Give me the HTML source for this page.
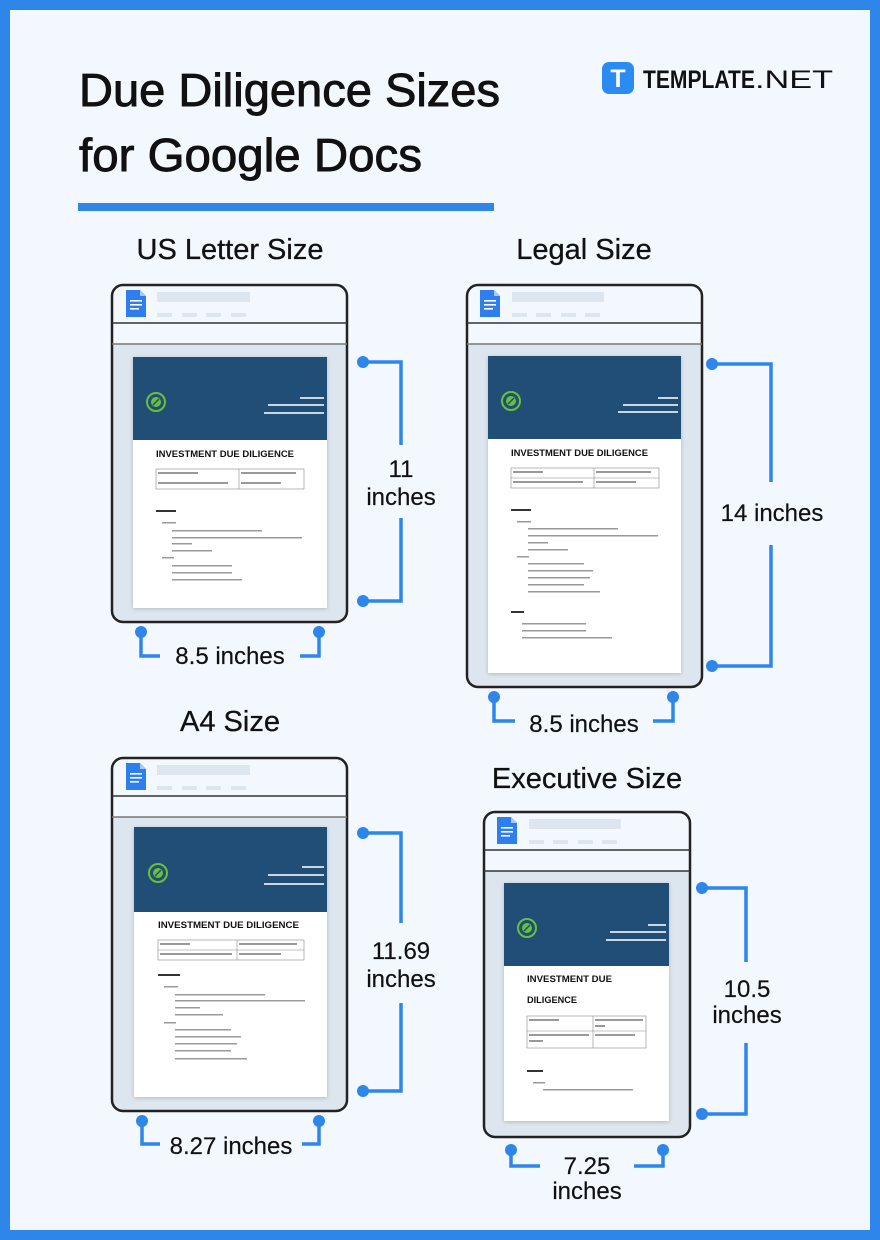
<!DOCTYPE html>
<html><head><meta charset="utf-8"><style>
html,body{margin:0;padding:0;background:#2e86ea}
svg{display:block}
text{font-family:"Liberation Sans",sans-serif}
</style></head><body>
<svg width="880" height="1240" viewBox="0 0 880 1240" xmlns="http://www.w3.org/2000/svg">
<defs>
<filter id="sh" x="-10%" y="-10%" width="120%" height="120%"><feDropShadow dx="0" dy="1" stdDeviation="2" flood-color="#000" flood-opacity="0.2"/></filter>
<g id="gicon"><path d="M0 0h14l6 6v21h-20z" fill="#2f7ef0"/><path d="M14 0v6h6z" fill="#a8c7fa"/><rect x="4" y="10" width="12" height="1.6" fill="#fff"/><rect x="4" y="14" width="12" height="1.6" fill="#fff"/><rect x="4" y="18" width="9" height="1.6" fill="#fff"/></g>
<g id="logo"><circle cx="0" cy="0" r="9" fill="none" stroke="#6cbf3a" stroke-width="2"/><circle cx="0" cy="0" r="5" fill="#6cbf3a"/><path d="M-3 3l6-6" stroke="#214e77" stroke-width="1.5"/></g>
</defs>
<rect x="10" y="10" width="860" height="1220" fill="#f3f8fe"/>

<g stroke="#111" stroke-width="0.9">
<text x="79" y="106" font-size="46" fill="#111" textLength="421" lengthAdjust="spacingAndGlyphs">Due Diligence Sizes</text>
<text x="79" y="171" font-size="46" fill="#111" textLength="343" lengthAdjust="spacingAndGlyphs">for Google Docs</text>
</g>
<rect x="78" y="203" width="416" height="8" fill="#2e86ea"/>

<rect x="602" y="62" width="32" height="32" rx="7" fill="#2a8cf2"/>
<text x="618" y="87" font-size="25" font-weight="bold" fill="#fff" text-anchor="middle">T</text>
<text x="643" y="88" font-size="25" font-weight="bold" fill="#111" textLength="112" lengthAdjust="spacingAndGlyphs">TEMPLATE</text>
<text x="755" y="88" font-size="25" fill="#111" textLength="78" lengthAdjust="spacingAndGlyphs">.NET</text>

<g font-size="29" fill="#111" text-anchor="middle" stroke="#111" stroke-width="0.3">
<text x="230" y="259">US Letter Size</text>
<text x="584" y="259">Legal Size</text>
<text x="230" y="731">A4 Size</text>
<text x="587" y="788">Executive Size</text>
</g>

<!-- Frame 1 US Letter -->
<g>
<rect x="112" y="285" width="235" height="337" rx="11" fill="#dde6ef"/>
<path d="M112 344V296a11 11 0 0 1 11-11h213a11 11 0 0 1 11 11v48z" fill="#f3f8fe"/>
<rect x="112" y="285" width="235" height="337" rx="11" fill="none" stroke="#222" stroke-width="2.5"/>
<line x1="112" y1="323" x2="347" y2="323" stroke="#333" stroke-width="1.5"/>
<line x1="112" y1="344" x2="347" y2="344" stroke="#777" stroke-width="1.5"/>
<use href="#gicon" x="126" y="290"/>
<rect x="157" y="292" width="93" height="10" fill="#dde6ef"/>
<g fill="#dde6ef"><rect x="157" y="313" width="15" height="4"/><rect x="182" y="313" width="15" height="4"/><rect x="206" y="313" width="15" height="4"/><rect x="231" y="313" width="15" height="4"/></g>
<rect x="133" y="357" width="194" height="251" fill="#fff" filter="url(#sh)"/>
<rect x="133" y="357" width="194" height="83" fill="#214e77"/>
<use href="#logo" x="156" y="402"/>
<g fill="#c9d6e3"><rect x="300" y="397" width="24" height="2"/><rect x="268" y="404" width="56" height="2"/><rect x="264" y="412" width="60" height="2"/></g>
<text x="156" y="457" font-size="9.5" font-weight="bold" fill="#111" textLength="138" lengthAdjust="spacingAndGlyphs">INVESTMENT DUE DILIGENCE</text>
<rect x="156" y="469" width="148" height="20" fill="none" stroke="#888" stroke-width="0.6"/>
<line x1="239" y1="469" x2="239" y2="489" stroke="#888" stroke-width="0.6"/>
<g fill="#999"><rect x="158" y="472" width="40" height="2"/><rect x="241" y="472" width="55" height="2"/><rect x="158" y="482" width="70" height="2"/><rect x="241" y="482" width="40" height="2"/><rect x="156" y="510" width="20" height="2" fill="#333"/><rect x="162" y="522" width="14" height="1.5"/><rect x="172" y="530" width="90" height="1.5"/><rect x="172" y="537" width="130" height="1.5"/><rect x="172" y="543" width="20" height="1.5"/><rect x="172" y="550" width="40" height="1.5"/><rect x="162" y="557" width="12" height="1.5"/><rect x="172" y="565" width="60" height="1.5"/><rect x="172" y="572" width="60" height="1.5"/><rect x="172" y="579" width="70" height="1.5"/></g>
</g>
<g stroke="#2e86ea" stroke-width="3.5" fill="none"><path d="M363 362H401V445"/><path d="M401 518V601H363"/><path d="M141 632V656H160"/><path d="M300 656H319V632"/></g>
<g fill="#2e86ea"><circle cx="363" cy="362" r="6"/><circle cx="363" cy="601" r="6"/><circle cx="141" cy="632" r="6"/><circle cx="319" cy="632" r="6"/></g>
<g font-size="24" fill="#111" text-anchor="middle" stroke="#111" stroke-width="0.2"><text x="401" y="477">11</text><text x="401" y="505">inches</text><text x="230" y="664">8.5 inches</text></g>

<!-- Frame 2 Legal -->
<g>
<rect x="467" y="285" width="235" height="402" rx="11" fill="#dde6ef"/>
<path d="M467 344V296a11 11 0 0 1 11-11h213a11 11 0 0 1 11 11v48z" fill="#f3f8fe"/>
<rect x="467" y="285" width="235" height="402" rx="11" fill="none" stroke="#222" stroke-width="2.5"/>
<line x1="467" y1="323" x2="702" y2="323" stroke="#333" stroke-width="1.5"/>
<line x1="467" y1="344" x2="702" y2="344" stroke="#777" stroke-width="1.5"/>
<use href="#gicon" x="480" y="290"/>
<rect x="512" y="292" width="92" height="10" fill="#dde6ef"/>
<g fill="#dde6ef"><rect x="512" y="313" width="15" height="4"/><rect x="536" y="313" width="15" height="4"/><rect x="561" y="313" width="15" height="4"/><rect x="585" y="313" width="15" height="4"/></g>
<rect x="488" y="356" width="193" height="317" fill="#fff" filter="url(#sh)"/>
<rect x="488" y="356" width="193" height="83" fill="#214e77"/>
<use href="#logo" x="511" y="401"/>
<g fill="#c9d6e3"><rect x="658" y="397" width="20" height="2"/><rect x="623" y="404" width="55" height="2"/><rect x="618" y="411" width="60" height="2"/></g>
<text x="511" y="456" font-size="9.5" font-weight="bold" fill="#111" textLength="137" lengthAdjust="spacingAndGlyphs">INVESTMENT DUE DILIGENCE</text>
<rect x="511" y="468" width="148" height="20" fill="none" stroke="#888" stroke-width="0.6"/>
<line x1="511" y1="478" x2="659" y2="478" stroke="#888" stroke-width="0.6"/><line x1="594" y1="468" x2="594" y2="488" stroke="#888" stroke-width="0.6"/>
<g fill="#999"><rect x="513" y="471" width="30" height="2"/><rect x="596" y="471" width="55" height="2"/><rect x="513" y="481" width="70" height="2"/><rect x="596" y="481" width="40" height="2"/><rect x="511" y="509" width="20" height="2" fill="#333"/><rect x="517" y="521" width="14" height="1.5"/><rect x="528" y="528" width="90" height="1.5"/><rect x="528" y="535" width="130" height="1.5"/><rect x="528" y="542" width="20" height="1.5"/><rect x="528" y="549" width="40" height="1.5"/><rect x="517" y="556" width="12" height="1.5"/><rect x="528" y="563" width="56" height="1.5"/><rect x="528" y="570" width="65" height="1.5"/><rect x="528" y="577" width="62" height="1.5"/><rect x="528" y="584" width="56" height="1.5"/><rect x="528" y="591" width="72" height="1.5"/><rect x="511" y="611" width="13" height="2" fill="#333"/><rect x="522" y="623" width="64" height="1.5"/><rect x="522" y="630" width="64" height="1.5"/><rect x="522" y="637" width="90" height="1.5"/></g>
</g>
<g stroke="#2e86ea" stroke-width="3.5" fill="none"><path d="M712 364H771V482"/><path d="M771 545V666H712"/><path d="M494 697V721H515"/><path d="M653 721H673V697"/></g>
<g fill="#2e86ea"><circle cx="712" cy="364" r="6"/><circle cx="712" cy="666" r="6"/><circle cx="494" cy="697" r="6"/><circle cx="673" cy="697" r="6"/></g>
<g font-size="24" fill="#111" text-anchor="middle" stroke="#111" stroke-width="0.2"><text x="772" y="521">14 inches</text><text x="584" y="732">8.5 inches</text></g>

<!-- Frame 3 A4 -->
<g>
<rect x="112" y="758" width="235" height="353" rx="11" fill="#dde6ef"/>
<path d="M112 817V769a11 11 0 0 1 11-11h213a11 11 0 0 1 11 11v48z" fill="#f3f8fe"/>
<rect x="112" y="758" width="235" height="353" rx="11" fill="none" stroke="#222" stroke-width="2.5"/>
<line x1="112" y1="796" x2="347" y2="796" stroke="#333" stroke-width="1.5"/>
<line x1="112" y1="817" x2="347" y2="817" stroke="#777" stroke-width="1.5"/>
<use href="#gicon" x="126" y="763"/>
<rect x="157" y="765" width="93" height="10" fill="#dde6ef"/>
<g fill="#dde6ef"><rect x="157" y="786" width="15" height="4"/><rect x="182" y="786" width="15" height="4"/><rect x="206" y="786" width="15" height="4"/><rect x="231" y="786" width="15" height="4"/></g>
<rect x="134" y="827" width="193" height="270" fill="#fff" filter="url(#sh)"/>
<rect x="134" y="827" width="193" height="85" fill="#214e77"/>
<use href="#logo" x="158" y="873"/>
<g fill="#c9d6e3"><rect x="302" y="866" width="22" height="2"/><rect x="268" y="874" width="56" height="2"/><rect x="264" y="883" width="60" height="2"/></g>
<text x="158" y="928" font-size="9.5" font-weight="bold" fill="#111" textLength="141" lengthAdjust="spacingAndGlyphs">INVESTMENT DUE DILIGENCE</text>
<rect x="158" y="940" width="146" height="20" fill="none" stroke="#888" stroke-width="0.6"/>
<line x1="158" y1="950" x2="304" y2="950" stroke="#888" stroke-width="0.6"/><line x1="237" y1="940" x2="237" y2="960" stroke="#888" stroke-width="0.6"/>
<g fill="#999"><rect x="160" y="943" width="30" height="2"/><rect x="239" y="943" width="58" height="2"/><rect x="160" y="953" width="72" height="2"/><rect x="239" y="953" width="42" height="2"/><rect x="158" y="974" width="22" height="2" fill="#333"/><rect x="164" y="986" width="14" height="1.5"/><rect x="175" y="994" width="90" height="1.5"/><rect x="175" y="1000" width="130" height="1.5"/><rect x="175" y="1007" width="25" height="1.5"/><rect x="175" y="1014" width="48" height="1.5"/><rect x="164" y="1022" width="12" height="1.5"/><rect x="175" y="1029" width="56" height="1.5"/><rect x="175" y="1036" width="66" height="1.5"/><rect x="175" y="1043" width="62" height="1.5"/><rect x="175" y="1050" width="56" height="1.5"/><rect x="175" y="1058" width="72" height="1.5"/></g>
</g>
<g stroke="#2e86ea" stroke-width="3.5" fill="none"><path d="M363 833H401V923"/><path d="M401 1003V1091H363"/><path d="M142 1121V1144H160"/><path d="M302 1144H319V1121"/></g>
<g fill="#2e86ea"><circle cx="363" cy="833" r="6"/><circle cx="363" cy="1091" r="6"/><circle cx="142" cy="1121" r="6"/><circle cx="319" cy="1121" r="6"/></g>
<g font-size="24" fill="#111" text-anchor="middle" stroke="#111" stroke-width="0.2"><text x="401" y="959">11.69</text><text x="401" y="987">inches</text><text x="231" y="1154">8.27 inches</text></g>

<!-- Frame 4 Executive -->
<g>
<rect x="484" y="812" width="206" height="325" rx="11" fill="#dde6ef"/>
<path d="M484 871V823a11 11 0 0 1 11-11h184a11 11 0 0 1 11 11v48z" fill="#f3f8fe"/>
<rect x="484" y="812" width="206" height="325" rx="11" fill="none" stroke="#222" stroke-width="2.5"/>
<line x1="484" y1="850" x2="690" y2="850" stroke="#333" stroke-width="1.5"/>
<line x1="484" y1="871" x2="690" y2="871" stroke="#333" stroke-width="1.5"/>
<use href="#gicon" x="497" y="817"/>
<rect x="529" y="819" width="92" height="10" fill="#dde6ef"/>
<g fill="#dde6ef"><rect x="529" y="840" width="15" height="4"/><rect x="553" y="840" width="15" height="4"/><rect x="578" y="840" width="15" height="4"/><rect x="602" y="840" width="15" height="4"/></g>
<rect x="504" y="883" width="165" height="238" fill="#fff" filter="url(#sh)"/>
<rect x="504" y="883" width="165" height="83" fill="#214e77"/>
<use href="#logo" x="527" y="928"/>
<g fill="#c9d6e3"><rect x="648" y="924" width="18" height="2"/><rect x="610" y="931" width="56" height="2"/><rect x="606" y="939" width="60" height="2"/></g>
<text x="527" y="982" font-size="9" font-weight="bold" fill="#111" textLength="85" lengthAdjust="spacingAndGlyphs">INVESTMENT DUE</text>
<text x="527" y="1003" font-size="9" font-weight="bold" fill="#111" textLength="50" lengthAdjust="spacingAndGlyphs">DILIGENCE</text>
<rect x="527" y="1016" width="119" height="32" fill="none" stroke="#888" stroke-width="0.6"/>
<line x1="527" y1="1031" x2="646" y2="1031" stroke="#888" stroke-width="0.6"/><line x1="593" y1="1016" x2="593" y2="1048" stroke="#888" stroke-width="0.6"/>
<g fill="#999"><rect x="529" y="1019" width="30" height="2"/><rect x="595" y="1019" width="48" height="2"/><rect x="595" y="1025" width="10" height="2"/><rect x="529" y="1034" width="60" height="2"/><rect x="529" y="1040" width="14" height="2"/><rect x="595" y="1034" width="40" height="2"/><rect x="527" y="1070" width="16" height="2" fill="#333"/><rect x="533" y="1082" width="12" height="1.5"/><rect x="543" y="1089" width="90" height="1.5"/></g>
</g>
<g stroke="#2e86ea" stroke-width="3.5" fill="none"><path d="M702 888H746V962"/><path d="M746 1043V1114H702"/><path d="M511 1150V1166H540"/><path d="M634 1166H663V1150"/></g>
<g fill="#2e86ea"><circle cx="702" cy="888" r="6"/><circle cx="702" cy="1114" r="6"/><circle cx="511" cy="1150" r="6"/><circle cx="663" cy="1150" r="6"/></g>
<g font-size="24" fill="#111" text-anchor="middle" stroke="#111" stroke-width="0.2"><text x="747" y="997">10.5</text><text x="747" y="1023">inches</text><text x="587" y="1174">7.25</text><text x="587" y="1199">inches</text></g>
</svg>
</body></html>
